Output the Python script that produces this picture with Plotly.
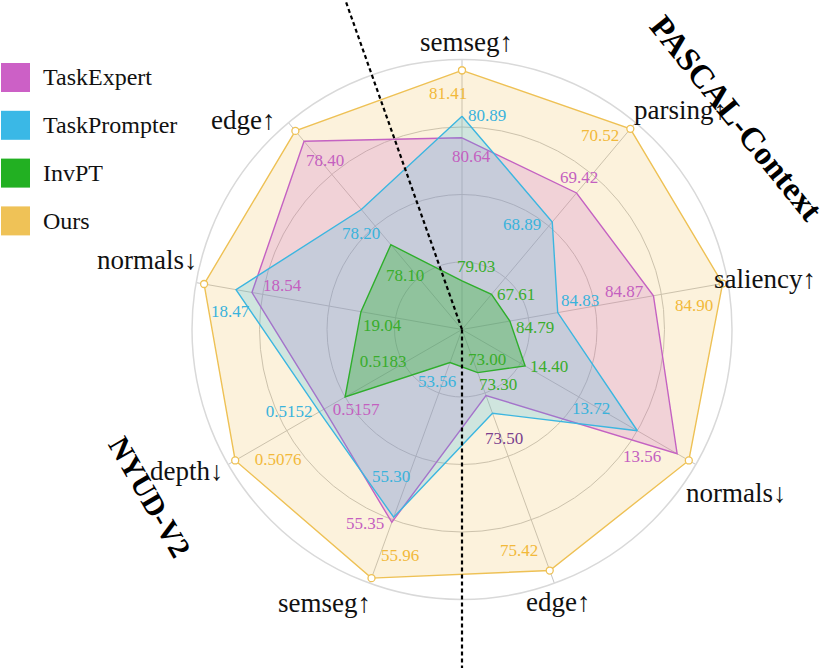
import math

import plotly.graph_objects as go

W, H = 826, 668
CX, CY, R = 462, 329.5, 270  # radar centre and outer ring radius (px)

# 9 spokes, clockwise from the top: 5 PASCAL-Context tasks then 4 NYUD-v2 tasks
axis_names = ["semseg↑", "parsing↑", "saliency↑", "normals↓", "edge↑",
              "semseg↑", "depth↓", "normals↓", "edge↑"]
theta = [0, 40, 80, 120, 160, 200, 240, 280, 320]

methods = ["TaskExpert", "TaskPrompter", "InvPT", "Ours"]

# normalised radius of each vertex (outer ring = 1)
r_taskexpert = [0.71, 0.66, 0.72, 0.92, 0.26, 0.76, 0.59, 0.79, 0.91]
r_taskprompter = [0.79, 0.52, 0.36, 0.75, 0.33, 0.74, 0.61, 0.85, 0.58]
r_invpt = [0.18, 0.17, 0.18, 0.27, 0.17, 0.13, 0.50, 0.38, 0.41]
r_ours = [0.96, 0.97, 0.98, 0.97, 0.95, 0.98, 0.97, 0.97, 0.96]

# scores printed next to the vertices
v_taskexpert = [80.64, 69.42, 84.87, 13.56, 73.30, 55.35, 0.5157, 18.54, 78.40]
v_taskprompter = [80.89, 68.89, 84.83, 13.72, 73.50, 55.30, 0.5152, 18.47, 78.20]
v_invpt = [79.03, 67.61, 84.79, 14.40, 73.00, 53.56, 0.5183, 19.04, 78.10]
v_ours = [81.41, 70.52, 84.90, 13.51, 75.42, 55.96, 0.5076, 18.33, 78.43]

line_col = {"TaskExpert": "#c462c2", "TaskPrompter": "#3cb6e0",
            "InvPT": "#2fae2c", "Ours": "#eec155"}
fill_col = {"TaskExpert": "rgba(204,94,196,0.21)",
            "TaskPrompter": "rgba(51,184,230,0.22)",
            "InvPT": "rgba(34,176,34,0.33)",
            "Ours": "rgba(240,192,80,0.2)"}
text_col = {"TaskExpert": "#c45fc0", "TaskPrompter": "#3ab3dc",
            "InvPT": "#39ad2b", "Ours": "#f2b93a"}
legend_col = {"TaskExpert": "#cc60c6", "TaskPrompter": "#3ab8e6",
              "InvPT": "#22b022", "Ours": "#efc257"}
# a few labels in the original are printed in another colour
text_override = {("TaskExpert", 4): "#39ad2b", ("TaskPrompter", 4): "#7a3f8e",
                 ("InvPT", 5): "#3ab3dc"}

# label centres in pixels
label_px = {
    "TaskExpert": [(471, 158), (579, 179), (624, 293), (642, 458), (498, 386),
                   (365, 525), (356, 411), (282, 287), (325, 162)],
    "TaskPrompter": [(487, 117), (522, 226), (580, 302), (591, 410), (504, 440),
                     (391, 478), (289, 413), (230, 313), (361, 235)],
    "InvPT": [(476, 268), (516, 296), (535, 329), (549, 368), (487, 361),
              (437, 383), (383, 363), (382, 327), (405, 277)],
    "Ours": [(448, 95), (600, 137), (694, 307), (718, 465), (519, 552),
             (400, 557), (278, 461), (170, 305), (290, 103)],
}
axis_label_px = [(466, 42), (680, 110), (765, 279), (736, 493), (558, 602),
                 (324, 603), (187, 471), (147, 260), (243, 120)]

radii = {"TaskExpert": r_taskexpert, "TaskPrompter": r_taskprompter,
         "InvPT": r_invpt, "Ours": r_ours}
values = {"TaskExpert": v_taskexpert, "TaskPrompter": v_taskprompter,
          "InvPT": v_invpt, "Ours": v_ours}


def to_polar(x, y):
    dx, dy = x - CX, CY - y
    return math.hypot(dx, dy) / R, (90 - math.degrees(math.atan2(dy, dx))) % 360


def px(x, y):
    return x / W, 1 - y / H


def fmt(v):
    return f"{v:.4f}" if v < 1 else f"{v:.2f}"


fig = go.Figure()

for m in ["Ours", "TaskExpert", "TaskPrompter", "InvPT"]:
    r = radii[m]
    fig.add_trace(go.Scatterpolar(
        r=r + r[:1], theta=theta + theta[:1],
        mode="lines+markers" if m == "Ours" else "lines",
        fill="toself", fillcolor=fill_col[m],
        line=dict(color=line_col[m], width=1.4),
        marker=dict(size=7, color="white", line=dict(color=line_col[m], width=1.3)),
        hoverinfo="skip", showlegend=False,
    ))

for m in methods:
    pos = [to_polar(x, y) for x, y in label_px[m]]
    fig.add_trace(go.Scatterpolar(
        r=[p[0] for p in pos], theta=[p[1] for p in pos],
        mode="text", text=[fmt(v) for v in values[m]],
        textfont=dict(family="Liberation Serif", size=17,
                      color=[text_override.get((m, i), text_col[m]) for i in range(9)]),
        cliponaxis=False, hoverinfo="skip", showlegend=False,
    ))

annotations = []
for name, (x, y) in zip(axis_names, axis_label_px):
    xp, yp = px(x, y)
    annotations.append(dict(x=xp, y=yp, xref="paper", yref="paper", text=name,
                            showarrow=False, xanchor="center", yanchor="middle",
                            font=dict(family="Liberation Serif", size=27, color="#111")))

for text, (x, y), ang, size in [("PASCAL-Context", (736, 118), 51, 33),
                                ("NYUD-V2", (150, 496), 60, 30)]:
    xp, yp = px(x, y)
    annotations.append(dict(x=xp, y=yp, xref="paper", yref="paper", text=f"<b>{text}</b>",
                            showarrow=False, textangle=ang, xanchor="center", yanchor="middle",
                            font=dict(family="Liberation Serif", size=size, color="black")))

# hand-drawn legend: coloured squares on the left
shapes = []
for i, m in enumerate(methods):
    yc = 77.5 + i * 47.8
    x0, y0 = px(1, yc - 14.5)
    x1, y1 = px(30, yc + 14.5)
    shapes.append(dict(type="rect", xref="paper", yref="paper", x0=x0, x1=x1, y0=y0, y1=y1,
                       fillcolor=legend_col[m], line=dict(width=0)))
    xp, yp = px(41, yc)
    annotations.append(dict(x=xp, y=yp, xref="paper", yref="paper", text=m, showarrow=False,
                            xanchor="left", yanchor="middle",
                            font=dict(family="Liberation Serif", size=24, color="#111")))

# dashed divider between the two datasets
a = math.radians(109.5)
top_len = CY / math.sin(a)
for (x_end, y_end) in [(CX + top_len * math.cos(a), 0), (CX, H)]:
    x0, y0 = px(CX, CY)
    x1, y1 = px(x_end, y_end)
    shapes.append(dict(type="line", xref="paper", yref="paper", x0=x0, y0=y0, x1=x1, y1=y1,
                       line=dict(color="black", width=2.2, dash="4px,3px")))

fig.update_layout(
    width=W, height=H,
    margin=dict(l=0, r=0, t=0, b=0),
    paper_bgcolor="white",
    polar=dict(
        domain=dict(x=[(CX - R) / W, (CX + R) / W], y=[1 - (CY + R) / H, 1 - (CY - R) / H]),
        bgcolor="white",
        radialaxis=dict(range=[0, 1], tickmode="array", tickvals=[0.25, 0.5, 0.75],
                        showticklabels=False, ticks="", showline=False,
                        gridcolor="#c4c4c4", gridwidth=1),
        angularaxis=dict(rotation=90, direction="clockwise", tickmode="array", tickvals=theta,
                         showticklabels=False, ticks="", gridcolor="#c4c4c4", gridwidth=1,
                         linecolor="#d9d9d9", linewidth=1.5),
    ),
    annotations=annotations,
    shapes=shapes,
)

# the page's default body margin would push the figure off by 8px
fig.write_html("out.html", config={"displayModeBar": False},
               post_script="document.body.style.margin='0';")
